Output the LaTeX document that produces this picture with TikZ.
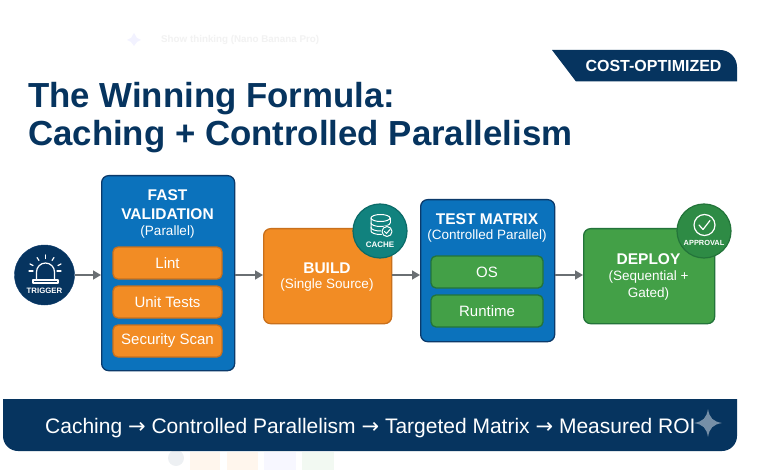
\documentclass[tikz,border=0pt]{standalone}
\usepackage{fontspec}
\setmainfont{Liberation Sans}
\newfontfamily\arrowfont{DejaVu Sans}
\newcommand{\flowarrow}{{\arrowfont →}}
\usetikzlibrary{arrows.meta,calc}
\definecolor{navy}{HTML}{06345F}
\definecolor{bluebox}{HTML}{0B72BC}
\definecolor{blueedge}{HTML}{0B3A6B}
\definecolor{orangebox}{HTML}{F28C24}
\definecolor{orangeedge}{HTML}{C9701C}
\definecolor{greenbox}{HTML}{43A047}
\definecolor{greenedge}{HTML}{23743A}
\definecolor{tealc}{HTML}{11827E}
\definecolor{tealedge}{HTML}{0B6B68}
\definecolor{greenc}{HTML}{2E8B45}
\definecolor{arrowgray}{HTML}{6A6F73}
\tikzset{
 x=1pt,y=-1pt,
 box/.style={draw,rounded corners=7pt,line width=1.3pt,inner sep=0pt,anchor=north west},
 outerblue/.style={box,fill=bluebox,draw=blueedge},
 innerorange/.style={box,fill=orangebox,draw=orangeedge,text=white,font=\fontsize{15}{15}\selectfont,rounded corners=5pt,anchor=center,minimum width=109pt,minimum height=32pt},
 innergreen/.style={box,fill=greenbox,draw=greenedge,text=white,font=\fontsize{15}{15}\selectfont,rounded corners=5pt,anchor=center,minimum width=112pt,minimum height=32pt},
 flow/.style={draw=arrowgray,line width=1.6pt,-{Triangle[length=8pt,width=9pt]}},
 lbl/.style={text=white,align=center,inner sep=0pt},
 heading/.style={lbl,font=\fontsize{15.5}{19}\selectfont\bfseries},
 sublabel/.style={lbl,font=\fontsize{13.5}{16.5}\selectfont},
 tiny/.style={lbl,font=\fontsize{7.8}{9}\selectfont\bfseries},
 titletext/.style={text=navy,anchor=base west,inner sep=0pt,font=\fontsize{34.8}{36}\selectfont\bfseries},
 icon/.style={draw=white,line width=1.2pt,line cap=round,line join=round},
 ghost/.style={inner sep=0pt,text=black!5,font=\fontsize{9.8}{10}\selectfont\bfseries}
}
\begin{document}
\begin{tikzpicture}
\useasboundingbox (0,0) rectangle (770,470);
\fill[white] (0,0) rectangle (770,470);

% faint residue
\node[ghost,anchor=west] (ghosttext) at (161,40) {Show thinking (Nano Banana Pro)};
\fill[blue!40!white,opacity=.12] (134,33) -- (137,38) -- (141,40) -- (137,42) -- (134,46) -- (131,42) -- (127,40) -- (131,38) -- cycle;
\fill[navy,opacity=.07] (176,458) circle (8);
\fill[orange,opacity=.07] (190,452) rectangle (220,470);
\fill[orange,opacity=.07] (227,452) rectangle (258,470);
\fill[blue,opacity=.03] (264,452) rectangle (296,470);
\fill[green!60!black,opacity=.05] (302,452) rectangle (334,470);

% title
\node[titletext] (title1) at (28,107.5) {The Winning Formula:};
\node[titletext] (title2) at (28,146) {Caching + Controlled Parallelism};

% badge
\fill[navy] (552,50) -- (720,50) arc[start angle=-90,end angle=0,radius=17] -- (737,81.5) -- (576,81.5) -- cycle;
\node[lbl,font=\fontsize{16}{16}\selectfont\bfseries] (badge) at (653.5,65.5) {COST-OPTIMIZED};

% trigger
\node[circle,fill=navy,draw=blueedge,minimum size=60pt,inner sep=0pt] (trigger) at (44.5,275) {};
\node[tiny] (triggerlabel) at (44.5,291) {TRIGGER};
\begin{scope}[icon]
 \draw (36.5,280) -- (36.5,272) arc[start angle=-180,end angle=0,radius=9] -- (54.5,280);
 \draw (33,280) rectangle (58,283);
 \draw (45.5,255) -- (45.5,258.5);
 \draw (37,257.5) -- (39,260.5);
 \draw (54,257.5) -- (52,260.5);
 \draw (30,264) -- (33,265.5);
 \draw (61,264) -- (58,265.5);
 \draw (29,271) -- (33,271);
 \draw (61,271) -- (57,271);
\end{scope}

% fast validation
\node[outerblue,minimum width=133pt,minimum height=195pt] (fast) at (101,175) {};
\node[heading] (fasthead) at (167.5,205) {FAST\\VALIDATION};
\node[sublabel] (fastsub) at (167.5,232) {(Parallel)};
\node[innerorange] (lint) at (167.5,263) {Lint};
\node[innerorange] (unit) at (167.5,302) {Unit Tests};
\node[innerorange] (scan) at (167.5,341) {Security Scan};

% build
\node[box,fill=orangebox,draw=orangeedge,minimum width=128pt,minimum height=95pt] (build) at (263,228) {};
\node[heading] (buildhead) at (327,268) {BUILD};
\node[sublabel] (buildsub) at (327,285.5) {(Single Source)};
\node[circle,fill=tealc,draw=tealedge,line width=1.2pt,minimum size=54pt,inner sep=0pt] (cache) at (380,231) {};
\node[tiny,font=\fontsize{8}{9}\selectfont\bfseries] (cachelabel) at (380,244.5) {CACHE};
\begin{scope}[icon,line width=1pt]
 \draw (371,218) -- (371,231) arc[start angle=180,end angle=0,x radius=9.5,y radius=3.5];
 \draw (390,218) -- (390,223);
 \draw (380.5,218) ellipse[x radius=9.5,y radius=3.5];
 \draw (371,223) arc[start angle=180,end angle=0,x radius=9.5,y radius=3.5];
 \draw (371,227.5) arc[start angle=180,end angle=60,x radius=9.5,y radius=3.5];
 \fill[tealc] (387,231.5) circle (6);
 \draw (387,231.5) circle (5);
 \draw (384.5,231.5) -- (386.5,233.5) -- (390,229.5);
\end{scope}

% test matrix
\node[outerblue,minimum width=134pt,minimum height=142pt] (matrix) at (420,199) {};
\node[heading] (matrixhead) at (487,219) {TEST MATRIX};
\node[sublabel] (matrixsub) at (487,236) {(Controlled Parallel)};
\node[innergreen] (os) at (487,272) {OS};
\node[innergreen] (runtime) at (487,311) {Runtime};

% deploy
\node[box,fill=greenbox,draw=greenedge,minimum width=131pt,minimum height=95pt] (deploy) at (583,228) {};
\node[heading] (deployhead) at (648.5,259) {DEPLOY};
\node[sublabel] (deploysub) at (648.5,285.5) {(Sequential +\\Gated)};
\node[circle,fill=greenc,draw=greenedge,line width=1.2pt,minimum size=54pt,inner sep=0pt] (approval) at (704,231) {};
\node[tiny,font=\fontsize{7.4}{9}\selectfont\bfseries] (approvallabel) at (704,243) {APPROVAL};
\draw[icon] (704.5,225) circle (10.5);
\draw[icon] (699,225) -- (703,229.5) -- (710,220.5);

% connectors
\draw[flow] (trigger) -- (fast.west|-trigger);
\coordinate (mid) at (0,275);
\draw[flow] (fast.east|-mid) -- (build.west|-mid);
\draw[flow] (build.east|-mid) -- (matrix.west|-mid);
\draw[flow] (matrix.east|-mid) -- (deploy.west|-mid);

% bottom bar
\fill[navy] (3,399) -- (737,399) -- (737,436) arc[start angle=0,end angle=90,radius=15] -- (18,451) arc[start angle=90,end angle=180,radius=15] -- cycle;
\node[lbl,anchor=base west,font=\fontsize{21}{21}\selectfont] (bartext) at (45,433) {Caching \flowarrow{} Controlled Parallelism \flowarrow{} Targeted Matrix \flowarrow{} Measured ROI};
\fill[white,opacity=.45] (708,409) .. controls (709.5,418) and (713,421.5) .. (722,423) .. controls (713,424.5) and (709.5,428) .. (708,437) .. controls (706.5,428) and (703,424.5) .. (694,423) .. controls (703,421.5) and (706.5,418) .. (708,409) -- cycle;
\end{tikzpicture}
\end{document}
